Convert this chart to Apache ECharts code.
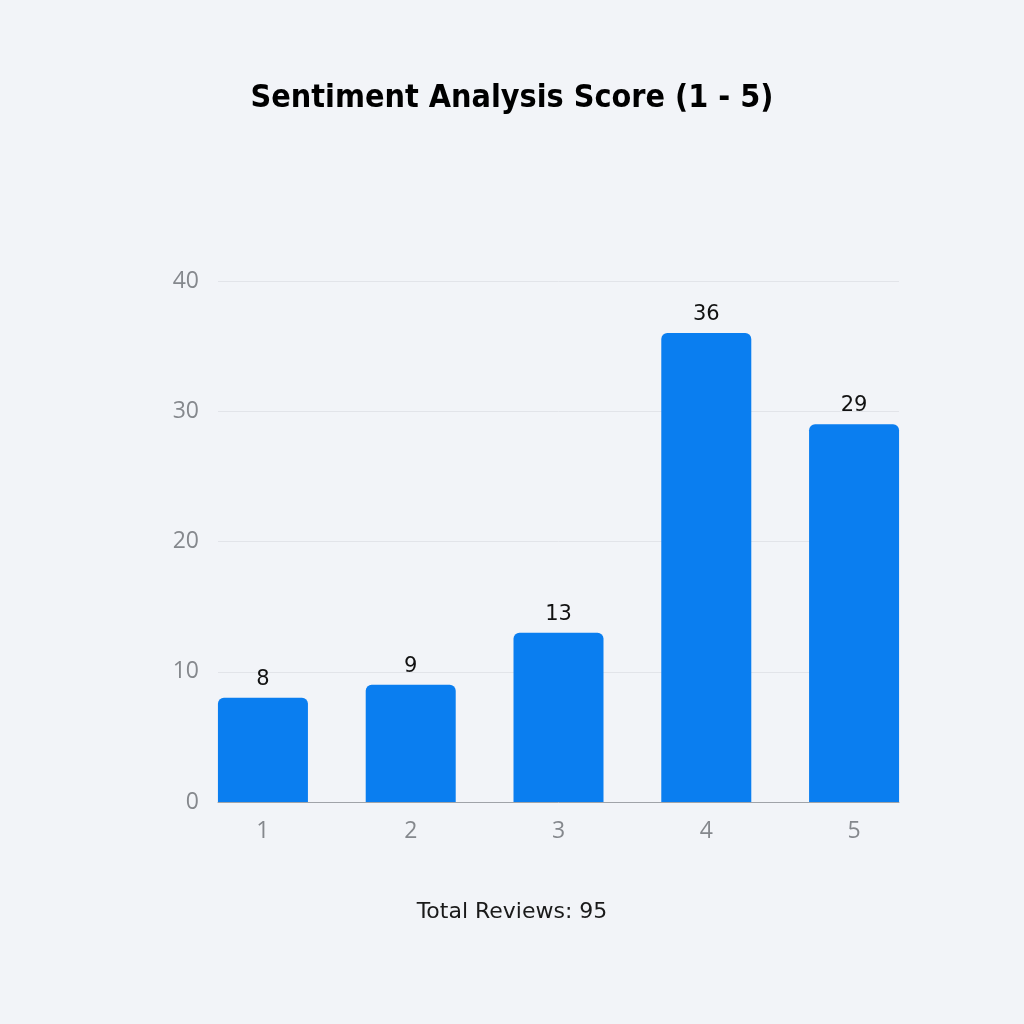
<!DOCTYPE html>
<html>
<head>
<meta charset="utf-8">
<script src="https://cdn.jsdelivr.net/npm/echarts@6/dist/echarts.min.js"></script>
<style>
html,body{margin:0;padding:0;background:#f2f4f8;}
#chart{width:1024px;height:1024px;}
</style>
</head>
<body>
<div id="chart"></div>
<script>
const categories = ['1', '2', '3', '4', '5'];
const values = [8, 9, 13, 36, 29];
const yTicks = [0, 10, 20, 30, 40];
const titleText = 'Sentiment Analysis Score (1 - 5)';
const footerText = 'Total Reviews: 95';

const positions = categories.map((c, i) => i + 1);
const seriesData = positions.map((p, i) => [p, values[i]]);

const chart = echarts.init(document.getElementById('chart'));
chart.setOption({
  backgroundColor: '#f2f4f8',
  animation: false,
  title: [{
    text: titleText,
    left: 'center',
    top: 78,
    textStyle: { fontFamily: "'DejaVu Sans Condensed', 'DejaVu Sans', sans-serif", fontWeight: 'bold', fontSize: 32, color: '#000' }
  }, {
    text: footerText,
    left: 'center',
    top: 896,
    textStyle: { fontFamily: "'DejaVu Sans', sans-serif", fontWeight: 'normal', fontSize: 22, color: '#1a1a1a' }
  }],
  grid: { left: 218, right: 125, top: 281, bottom: 222, containLabel: false },
  xAxis: {
    type: 'value',
    min: 1 - 45 / 148,
    max: 5 + 45 / 148,
    splitLine: { show: false },
    axisLine: { show: true, onZero: false, lineStyle: { color: '#a0a3a8', width: 1 } },
    axisTick: { show: false },
    axisLabel: {
      customValues: positions,
      formatter: v => categories[Math.round(v) - 1],
      color: '#85888d', fontSize: 23, fontFamily: "'Open Sans', sans-serif", fontWeight: 'normal', margin: 18
    }
  },
  yAxis: {
    type: 'value',
    min: yTicks[0],
    max: yTicks[yTicks.length - 1],
    interval: 10,
    axisLine: { show: false },
    axisTick: { show: false },
    splitLine: { lineStyle: { color: '#e2e4e9', width: 1 } },
    axisLabel: { color: '#85888d', fontSize: 23, fontFamily: "'Open Sans', sans-serif", fontWeight: 'normal', margin: 19 }
  },
  series: [{
    type: 'bar',
    data: seriesData,
    barWidth: 90,
    itemStyle: { color: '#0a7ef0', borderRadius: [6, 6, 0, 0] },
    label: {
      show: true, position: 'top', distance: 8,
      formatter: p => p.value[1],
      color: '#111', fontSize: 21, fontFamily: "'DejaVu Sans', sans-serif"
    }
  }]
});
</script>
</body>
</html>
